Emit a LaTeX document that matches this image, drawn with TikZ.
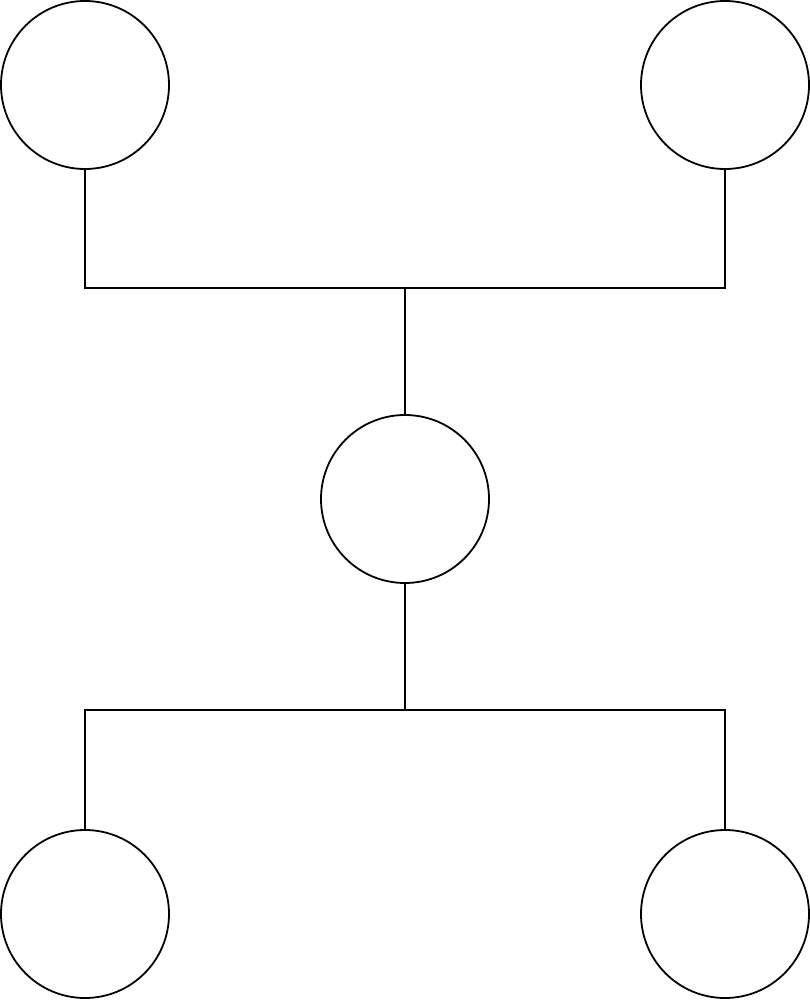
\documentclass[tikz,border=0pt]{standalone}
\begin{document}
\begin{tikzpicture}[x=1pt,y=-1pt,
  ball/.style={circle,draw=black,line width=1.8pt,minimum size=168pt,inner sep=0pt,fill=white},
  wire/.style={draw=black,line width=1.8pt}]
\useasboundingbox[fill=white] (0,0) rectangle (810,1000);
\node[ball] (tl) at (85,85) {};
\node[ball] (tr) at (725,85) {};
\node[ball] (mid) at (405,499) {};
\node[ball] (bl) at (85,914) {};
\node[ball] (br) at (725,914) {};
\coordinate (jt) at (405,288);
\coordinate (jb) at (405,710);
\draw[wire] (tl.south) |- (jt) -| (tr.south);
\draw[wire] (jt) -- (mid.north);
\draw[wire] (mid.south) -- (jb);
\draw[wire] (bl.north) |- (jb) -| (br.north);
\end{tikzpicture}
\end{document}
